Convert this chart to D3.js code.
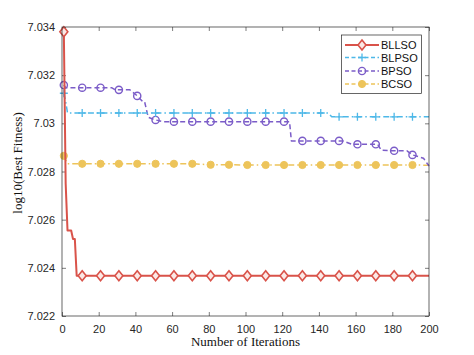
<!DOCTYPE html>
<html>
<head>
<meta charset="utf-8">
<script src="https://cdn.jsdelivr.net/npm/d3@7/dist/d3.min.js"></script>
<style>
  html, body { margin: 0; padding: 0; background: #fff; }
  svg { display: block; }
</style>
</head>
<body>
<svg id="chart" width="474" height="355"></svg>
<script>
// ---------- data ----------
const xTicks = [0, 20, 40, 60, 80, 100, 120, 140, 160, 180, 200];
const yTicks = [7.022, 7.024, 7.026, 7.028, 7.030, 7.032, 7.034];
const yTickLabels = ["7.022", "7.024", "7.026", "7.028", "7.03", "7.032", "7.034"];
const markerIters = [1, 11, 21, 31, 41, 51, 61, 71, 81, 91, 101, 111, 121, 131, 141, 151, 161, 171, 181, 191];

const bllsoIter = [1, 2, 3, 5, 6, 7, 8, 11, 21, 31, 41, 51, 61, 71, 81, 91, 101, 111, 121, 131, 141, 151, 161, 171, 181, 191, 200];
const bllsoVal  = [7.0338, 7.0275, 7.02555, 7.02555, 7.0252, 7.0252, 7.02367, 7.02367, 7.02367, 7.02367, 7.02367, 7.02367, 7.02367, 7.02367, 7.02367, 7.02367, 7.02367, 7.02367, 7.02367, 7.02367, 7.02367, 7.02367, 7.02367, 7.02367, 7.02367, 7.02367, 7.02367];

const blpsoIter = [1, 2, 3, 11, 21, 31, 41, 51, 61, 71, 81, 91, 101, 111, 121, 131, 141, 145, 147, 151, 161, 171, 181, 191, 200];
const blpsoVal  = [7.03125, 7.0309, 7.03043, 7.03043, 7.03043, 7.03043, 7.03043, 7.03043, 7.03043, 7.03043, 7.03043, 7.03043, 7.03043, 7.03043, 7.03043, 7.03043, 7.03043, 7.03043, 7.03027, 7.03027, 7.03027, 7.03027, 7.03027, 7.03027, 7.03027];

const bpsoIter = [1, 2, 11, 21, 27, 29, 31, 37, 41, 44, 45, 47, 51, 55, 61, 71, 81, 91, 101, 111, 121, 124, 125, 131, 141, 151, 153, 158, 161, 171, 172, 174, 181, 188, 191, 197, 200];
const bpsoVal  = [7.03159, 7.03148, 7.03148, 7.03148, 7.03148, 7.03139, 7.03139, 7.03139, 7.03114, 7.0309, 7.0309, 7.03025, 7.03014, 7.03007, 7.03007, 7.03007, 7.03007, 7.03007, 7.03007, 7.03007, 7.03007, 7.03007, 7.02927, 7.02927, 7.02927, 7.02927, 7.02927, 7.02913, 7.02913, 7.02913, 7.02913, 7.02888, 7.02886, 7.02886, 7.02869, 7.02855, 7.02823];

const bcsoIter = [1, 3, 11, 21, 31, 41, 51, 61, 71, 81, 91, 101, 111, 121, 131, 141, 151, 161, 171, 181, 191, 200];
const bcsoVal  = [7.02865, 7.02832, 7.02832, 7.02832, 7.02832, 7.02832, 7.02832, 7.02832, 7.02832, 7.02828, 7.02828, 7.02827, 7.02827, 7.02827, 7.02827, 7.02827, 7.02827, 7.02827, 7.02827, 7.02827, 7.02827, 7.02826];

const seriesNames = ["BLLSO", "BLPSO", "BPSO", "BCSO"];

// ---------- layout ----------
const svg = d3.select("#chart");
const L = 62, R = 429, T = 27, B = 316;
const x = d3.scaleLinear().domain([0, 200]).range([L, R]);
const y = d3.scaleLinear().domain([7.022, 7.034]).range([B, T]);
const axisColor = "#262626";

const series = [
  { name: seriesNames[0], iters: bllsoIter, vals: bllsoVal, color: "#D9534A", width: 2,   dash: null,        marker: "diamond" },
  { name: seriesNames[1], iters: blpsoIter, vals: blpsoVal, color: "#4DB8E8", width: 1.5, dash: "6,3,1.5,3", marker: "plus" },
  { name: seriesNames[2], iters: bpsoIter,  vals: bpsoVal,  color: "#7B5CC8", width: 1.5, dash: "5,3",       marker: "circle" },
  { name: seriesNames[3], iters: bcsoIter,  vals: bcsoVal,  color: "#EDC45A", width: 1.5, dash: "6,3,1.5,3", marker: "dot" }
];

// background
svg.append("rect").attr("x", 0).attr("y", 0).attr("width", 474).attr("height", 355).attr("fill", "#fff");

// ---------- axes ----------
const gx = svg.append("g").attr("transform", `translate(0,${B})`)
  .call(d3.axisBottom(x).tickValues(xTicks).tickFormat(d3.format("d")).tickSizeInner(-4).tickSizeOuter(0).tickPadding(9));
const gxt = svg.append("g").attr("transform", `translate(0,${T})`)
  .call(d3.axisTop(x).tickValues(xTicks).tickFormat("").tickSizeInner(-4).tickSizeOuter(0));
const gy = svg.append("g").attr("transform", `translate(${L},0)`)
  .call(d3.axisLeft(y).tickValues(yTicks).tickFormat((d, i) => yTickLabels[i]).tickSizeInner(-4).tickSizeOuter(0).tickPadding(7));
const gyr = svg.append("g").attr("transform", `translate(${R},0)`)
  .call(d3.axisRight(y).tickValues(yTicks).tickFormat("").tickSizeInner(-4).tickSizeOuter(0));

[gx, gxt, gy, gyr].forEach(g => {
  g.select(".domain").remove();
  g.selectAll(".tick line").attr("stroke", axisColor).attr("stroke-width", 0.6);
  g.selectAll("text").attr("fill", axisColor)
    .style("font-family", "'Liberation Sans', Arial, sans-serif").style("font-size", "11px");
});

// ---------- lines & markers ----------
const clip = svg.append("defs").append("clipPath").attr("id", "plotclip")
  .append("rect").attr("x", L - 6).attr("y", T - 6).attr("width", R - L + 12).attr("height", B - T + 12);

const plot = svg.append("g").attr("clip-path", "url(#plotclip)");

function drawMarker(g, type, cx, cy, color) {
  if (type === "diamond") {
    g.append("path").attr("d", `M${cx},${cy - 5}L${cx + 4},${cy}L${cx},${cy + 5}L${cx - 4},${cy}Z`)
      .attr("fill", "#fbe9e6").attr("stroke", color).attr("stroke-width", 1.6);
  } else if (type === "plus") {
    g.append("path").attr("d", `M${cx - 4},${cy}H${cx + 4}M${cx},${cy - 4}V${cy + 4}`)
      .attr("fill", "none").attr("stroke", color).attr("stroke-width", 1.3);
  } else if (type === "circle") {
    g.append("circle").attr("cx", cx).attr("cy", cy).attr("r", 3.6)
      .attr("fill", "none").attr("stroke", color).attr("stroke-width", 1.4);
  } else if (type === "dot") {
    g.append("circle").attr("cx", cx).attr("cy", cy).attr("r", 3.6)
      .attr("fill", color).attr("stroke", color).attr("stroke-width", 1);
  }
}

const line = d3.line().x(d => x(d[0])).y(d => y(d[1]));

// draw in reverse so BLLSO ends on top
series.slice().reverse().forEach(s => {
  const pts = s.iters.map((it, i) => [it, s.vals[i]]);
  plot.append("path").datum(pts).attr("d", line)
    .attr("fill", "none").attr("stroke", s.color).attr("stroke-width", s.width)
    .attr("stroke-dasharray", s.dash).attr("stroke-linejoin", "round");
  const mg = plot.append("g");
  pts.filter(p => markerIters.includes(p[0])).forEach(p => drawMarker(mg, s.marker, x(p[0]), y(p[1]), s.color));
});

// box
svg.append("rect").attr("x", L).attr("y", T).attr("width", R - L).attr("height", B - T)
  .attr("fill", "none").attr("stroke", axisColor).attr("stroke-width", 0.7);

// ---------- axis labels ----------
svg.append("text").attr("x", (L + R) / 2).attr("y", 346).attr("text-anchor", "middle")
  .attr("fill", "#111").style("font-family", "'Liberation Serif', 'Times New Roman', serif").style("font-size", "13px")
  .text("Number of Iterations");
svg.append("text").attr("transform", `translate(22,163) rotate(-90)`).attr("text-anchor", "middle")
  .attr("fill", "#111").style("font-family", "'Liberation Serif', 'Times New Roman', serif").style("font-size", "13px")
  .text("log10(Best Fitness)");

// ---------- legend ----------
const lg = svg.append("g");
lg.append("rect").attr("x", 341.5).attr("y", 35).attr("width", 80).attr("height", 58.5)
  .attr("fill", "#fff").attr("stroke", axisColor).attr("stroke-width", 0.7);
const rowY = [45, 57.5, 71, 84];
series.forEach((s, i) => {
  const yy = rowY[i];
  lg.append("line").attr("x1", 345).attr("x2", 379).attr("y1", yy).attr("y2", yy)
    .attr("stroke", s.color).attr("stroke-width", s.width).attr("stroke-dasharray", s.dash ? "4,2.5" : null);
  drawMarker(lg, s.marker, 362, yy, s.color);
  lg.append("text").attr("x", 381).attr("y", yy + 4).attr("fill", "#111")
    .style("font-family", "'Liberation Sans', Arial, sans-serif").style("font-size", "11px")
    .text(s.name);
});
</script>
</body>
</html>
